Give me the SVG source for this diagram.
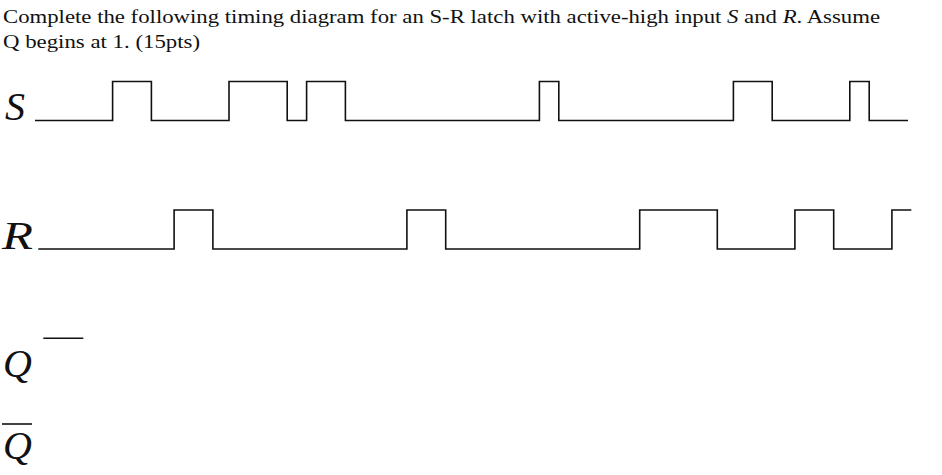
<svg xmlns="http://www.w3.org/2000/svg" width="942" height="475" viewBox="0 0 942 475">
<style>
.t{font-family:"Liberation Serif","DejaVu Serif",serif;font-size:18px;fill:#111}
.lbl{font-family:"Liberation Serif","DejaVu Serif",serif;font-style:italic;font-size:40px;fill:#111}
.w{fill:none;stroke:#111;stroke-width:1.6}
</style>
<rect width="942" height="475" fill="#fff"/>
<g id="title">
<text class="t" x="3" y="23" textLength="877" lengthAdjust="spacingAndGlyphs">Complete the following timing diagram for an S-R latch with active-high input <tspan font-style="italic">S</tspan> and <tspan font-style="italic">R</tspan>. Assume</text>
<text class="t" x="3" y="48" textLength="197" lengthAdjust="spacingAndGlyphs">Q begins at 1. (15pts)</text>
</g>
<g id="S">
<text class="lbl" x="5" y="120" textLength="20" lengthAdjust="spacingAndGlyphs">S</text>
<polyline class="w" points="35,120.5 112.6,120.5 112.6,81.5 151.4,81.5 151.4,120.5 229,120.5 229,81.5 287.2,81.5 287.2,120.5 306.6,120.5 306.6,81.5 345.4,81.5 345.4,120.5 539.4,120.5 539.4,81.5 558.8,81.5 558.8,120.5 733.4,120.5 733.4,81.5 772.2,81.5 772.2,120.5 849.8,120.5 849.8,81.5 869.2,81.5 869.2,120.5 908,120.5"/>
</g>
<g id="R">
<text class="lbl" x="2" y="249" textLength="31" lengthAdjust="spacingAndGlyphs">R</text>
<polyline class="w" points="38.3,249 174.1,249 174.1,210 212.9,210 212.9,249 406.9,249 406.9,210 445.7,210 445.7,249 639.7,249 639.7,210 717.3,210 717.3,249 794.9,249 794.9,210 833.7,210 833.7,249 891.9,249 891.9,210 911.3,210"/>
</g>
<g id="Q">
<text class="lbl" x="3" y="377">Q</text>
<line class="w" x1="43.3" y1="338.3" x2="83.3" y2="338.3"/>
</g>
<g id="Qbar">
<text class="lbl" x="3" y="459">Q</text>
<line class="w" x1="2" y1="424" x2="32" y2="424"/>
</g>
</svg>
